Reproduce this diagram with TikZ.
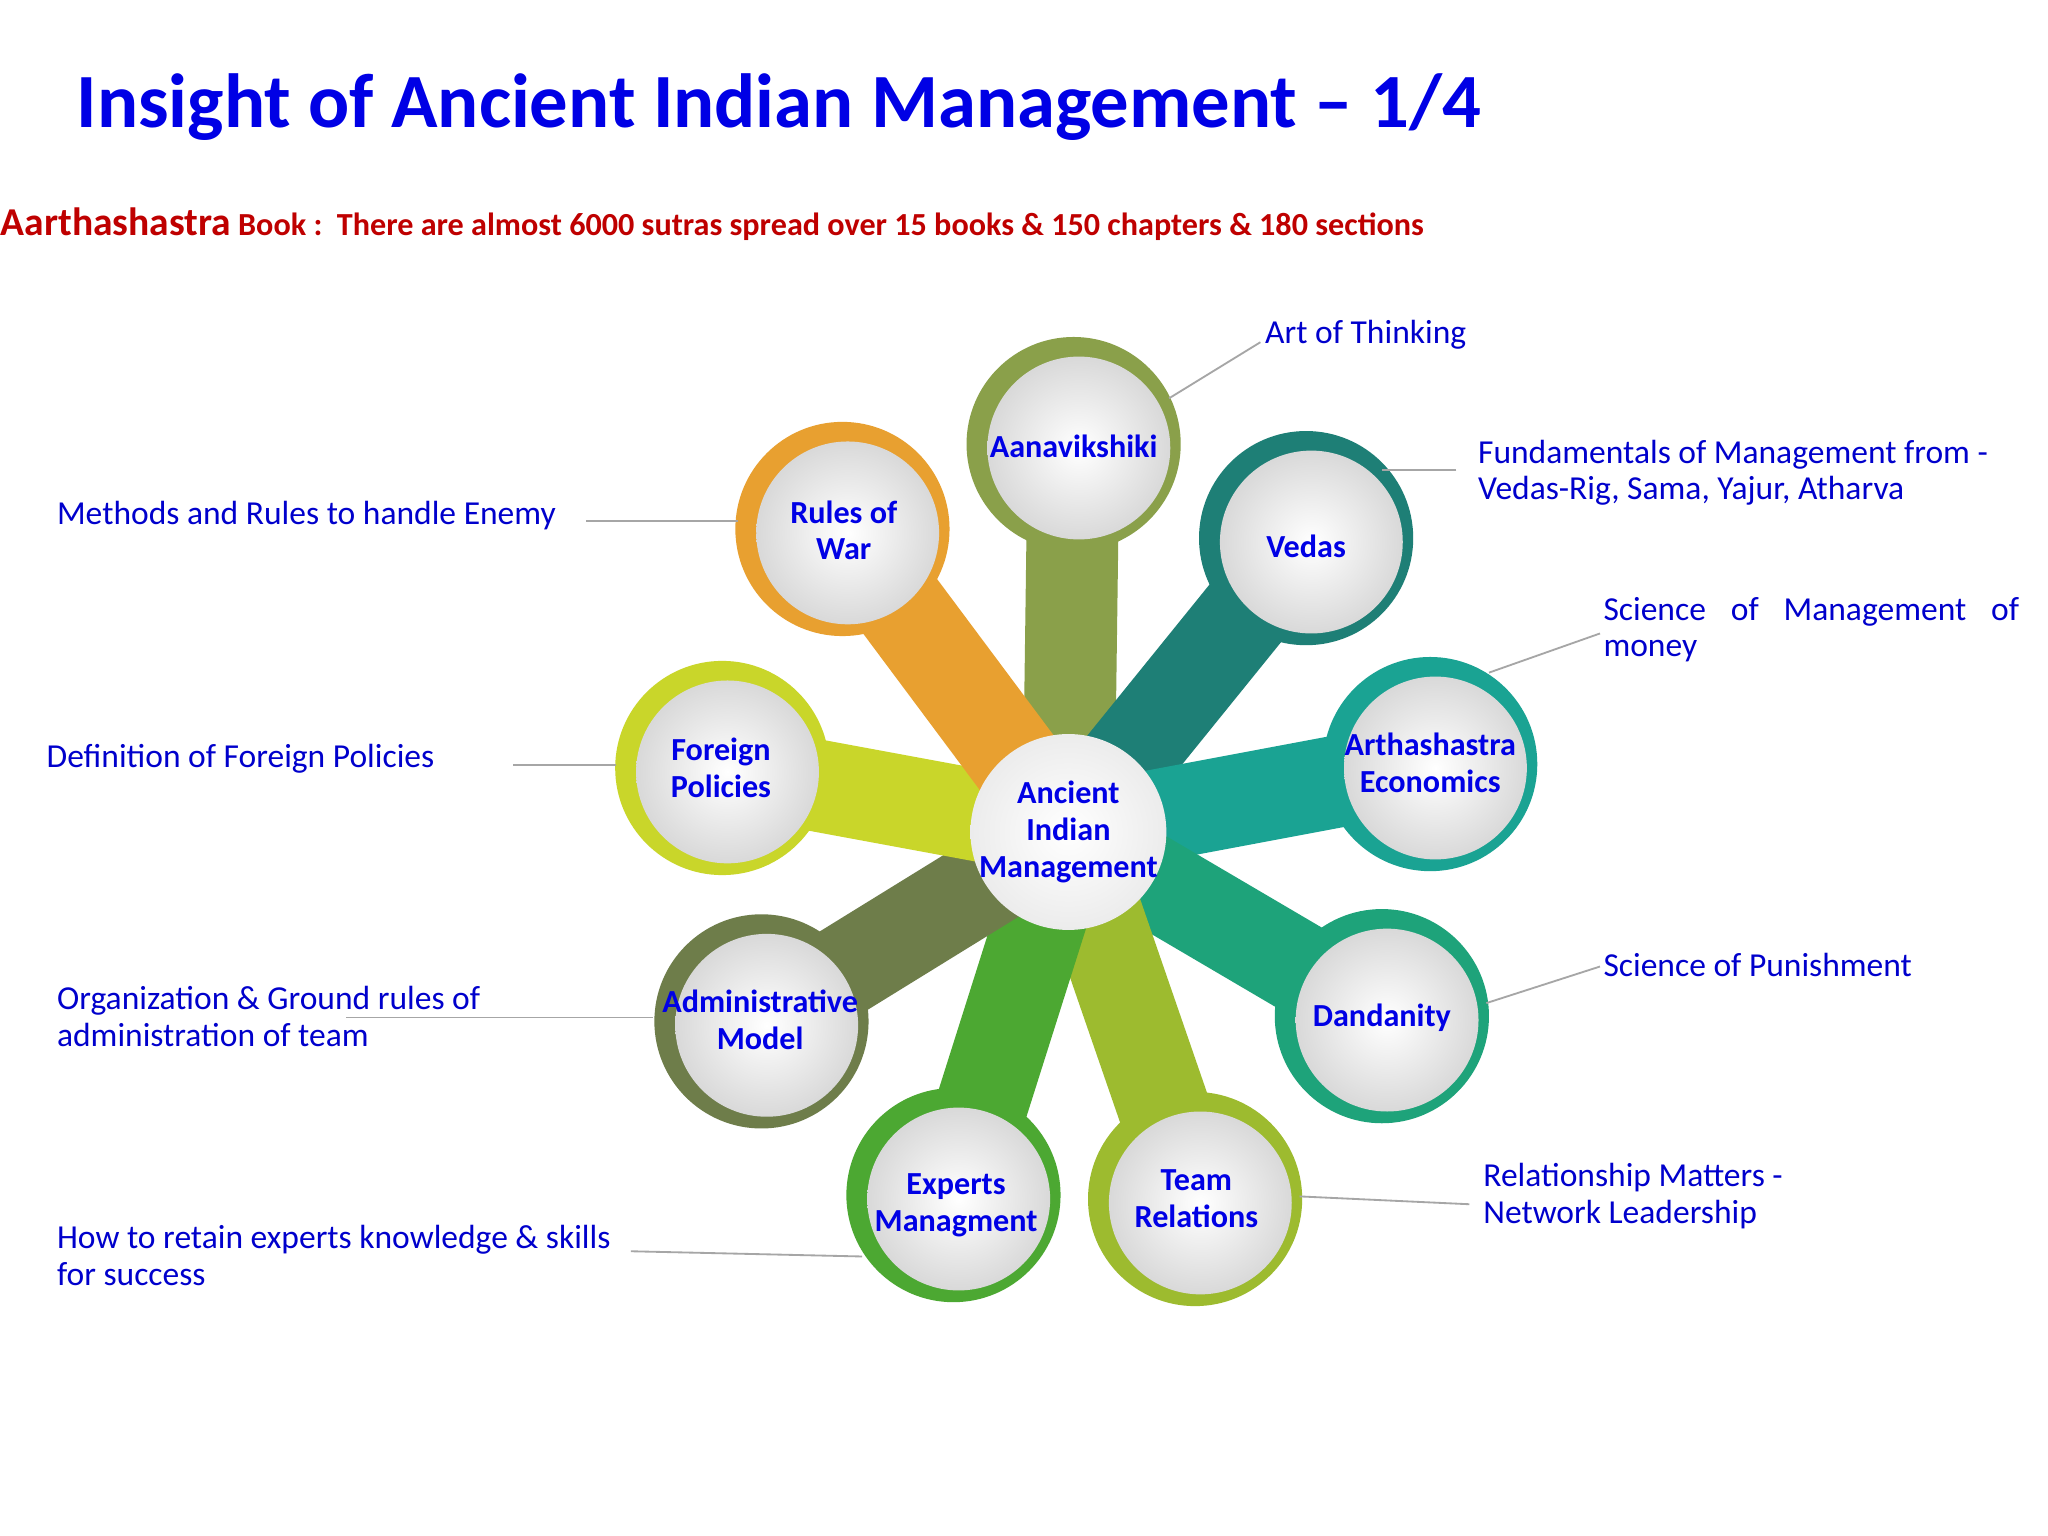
\documentclass[tikz,border=0pt]{standalone}
\usepackage{fontspec}
\setmainfont{Carlito}
\begin{document}
\begin{tikzpicture}[x=0.01cm,y=-0.01cm,
  lab/.style={text=blue!80!black,font=\fontsize{7.3}{8}\selectfont,anchor=west,align=left,inner sep=0},
  ptxt/.style={text=blue!90!black,font=\bfseries\fontsize{7}{8}\selectfont,align=center},
  con/.style={draw=gray!70,line width=0.4pt}]
\useasboundingbox[fill=white] (0,0) rectangle (1568,1176);
\node[anchor=west,text=blue!90!black,font=\bfseries\fontsize{16.7}{19}\selectfont,inner sep=0] (title) at (58,82) {Insight of Ancient Indian Management -- 1/4};
\node[anchor=west,text=red!75!black,font=\bfseries\fontsize{7}{8}\selectfont,inner sep=0] (sub) at (0,172) {{\fontsize{8.6}{9}\selectfont Aarthashastra} Book :\ \ There are almost 6000 sutras spread over 15 books \& 150 chapters \& 180 sections};
\coordinate (c) at (818,637);
\foreach \x/\y/\col in {822/340/8AA04A,1000/412/1E7F76,1095/585/1AA393,1058/778/1EA37A,915/918/9DBB2F,730/915/4CA832,583/782/6E7D4A,553/588/C9D62A,645/405/E8A030}{
  \definecolor{pc}{HTML}{\col}
  \draw[pc,line width=20pt,line cap=round] (c) -- (\x,\y);
}
\foreach \x/\y/\col in {822/340/8AA04A,1000/412/1E7F76,1095/585/1AA393,1058/778/1EA37A,915/918/9DBB2F,730/915/4CA832,583/782/6E7D4A,553/588/C9D62A,645/405/E8A030}{
  \definecolor{pc}{HTML}{\col}
  \fill[pc] (\x,\y) circle (82);
  \shade[inner color=white,outer color=gray!30] (\x+4,\y+3) circle (70);
}
\shade[inner color=white,outer color=gray!15] (c) circle (75);
\node[ptxt] (n0) at (c) {Ancient\\Indian\\Management};
\node[ptxt] (n1) at (822,342) {Aanavikshiki};
\node[ptxt] (n2) at (1000,418) {Vedas};
\node[ptxt] (n3) at (1095,584) {Arthashastra\\Economics};
\node[ptxt] (n4) at (1058,779) {Dandanity};
\node[ptxt] (n5) at (916,918) {Team\\Relations};
\node[ptxt] (n6) at (732,923) {Experts\\Managment};
\node[ptxt] (n7) at (582,781) {Administrative\\Model};
\node[ptxt] (n8) at (552,588) {Foreign\\Policies};
\node[ptxt] (n9) at (646,406) {Rules of\\War};
\node[lab] (l1) at (968,256) {Art of Thinking};
\node[lab] (l2) at (1131,362) {Fundamentals of Management from -\\Vedas-Rig, Sama, Yajur, Atharva};
\node[lab,text width=3.18cm] (l3) at (1227,482) {Science\hfill of\hfill Management\hfill of\\money};
\node[lab] (l4) at (1227,739) {Science of Punishment};
\node[lab] (l5) at (1135,916) {Relationship Matters -\\Network Leadership};
\node[lab] (l6) at (43,961) {How to retain experts knowledge \& skills\\for success};
\node[lab] (l7) at (43,778) {Organization \& Ground rules of\\administration of team};
\node[lab] (l8) at (35,581) {Definition of Foreign Policies};
\node[lab] (l9) at (43,395) {Methods and Rules to handle Enemy};
\coordinate (a1) at (965,262); \coordinate (b1) at (895,305);
\coordinate (a2) at (1115,360); \coordinate (b2) at (1058,360);
\coordinate (a3) at (1225,485); \coordinate (b3) at (1140,515);
\coordinate (a4) at (1225,740); \coordinate (b4) at (1138,768);
\coordinate (a5) at (1125,922); \coordinate (b5) at (995,916);
\coordinate (a6) at (483,958); \coordinate (b6) at (660,962);
\coordinate (a7) at (265,779); \coordinate (b7) at (500,779);
\coordinate (a8) at (393,586); \coordinate (b8) at (472,586);
\coordinate (a9) at (449,399); \coordinate (b9) at (565,399);
\foreach \i in {1,...,9}{\draw[con] (a\i) -- (b\i);}
\end{tikzpicture}
\end{document}
